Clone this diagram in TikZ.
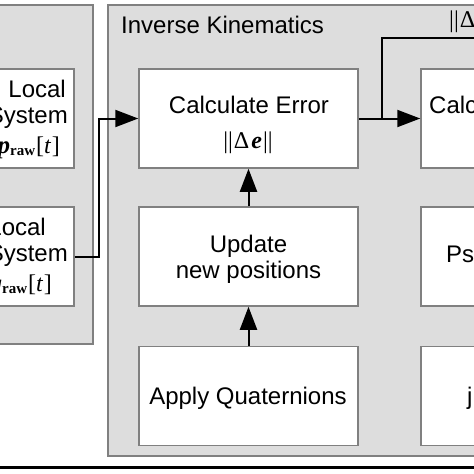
\documentclass[tikz,border=0pt]{standalone}
\usepackage{fontspec}
\setmainfont{Liberation Sans}
\newfontfamily\serifnum{Liberation Serif}
\usetikzlibrary{arrows.meta}
\definecolor{panelfill}{RGB}{221,221,221}
\definecolor{edgegray}{RGB}{128,128,128}
\newcommand{\bigsf}{\fontsize{24}{26}\selectfont}
\newcommand{\rawvec}[1]{{\serifnum\fontsize{25}{27}\selectfont\bfseries\itshape #1}\raisebox{-2pt}{\serifnum\fontsize{15}{17}\selectfont\bfseries raw}{\serifnum\fontsize{24}{26}\selectfont\kern1pt[\itshape t\kern1pt\upshape]}}
\begin{document}
\begin{tikzpicture}[x=1pt,y=-1pt,
  panel/.style={fill=panelfill,draw=edgegray,line width=1.5pt},
  box/.style={draw=edgegray,fill=white,line width=1.5pt,minimum width=219pt,minimum height=99pt,inner sep=0pt},
  lbl/.style={font=\bigsf,inner sep=0pt,anchor=base},
  lble/.style={font=\bigsf,inner sep=0pt,anchor=base east},
  lblw/.style={font=\bigsf,inner sep=0pt,anchor=base west},
  mth/.style={font=\serifnum\fontsize{24}{26}\selectfont,inner sep=0pt,anchor=base},
  arr/.style={-{Triangle[length=23pt,width=17pt]},line width=2pt,black},
  wire/.style={line width=2pt,black}]
\useasboundingbox (0,0) rectangle (474,474);
\clip (0,0) rectangle (474,474);
% panels
\filldraw[panel] (-160,5) rectangle (93,344);
\filldraw[panel] (108,5) rectangle (700,456);
% bottom rule
\draw[line width=2.5pt,black] (-10,467.5) -- (490,467.5);
% panel title
\node[lblw] (iktitle) at (121,33) {Inverse Kinematics};
\node[mth,anchor=base west] (toplbl) at (449,27) {||\kern1ptΔ};
% left boxes
\node[box] (loc1) at (-35.5,118.5) {};
\node[box] (loc2) at (-35.5,256.5) {};
\node[lble] (loc1a) at (66,97) {Local};
\node[lble] (loc1b) at (68,123) {System};
\node[inner sep=0pt,anchor=base east] (loc1c) at (60,153) {\rawvec{p}};
\node[lble] (loc2a) at (46,235) {Local};
\node[lble] (loc2b) at (68,261) {System};
\node[inner sep=0pt,anchor=base east] (loc2c) at (52,291) {\rawvec{q}};
% middle column
\node[box] (calc) at (248.5,118.5) {};
\node[box] (upd) at (248.5,256.5) {};
\node[box] (quat) at (248.5,396) {};
\node[lbl] (calca) at (249,113) {Calculate Error};
\node[mth] (calcb) at (248,148) {||\kern1ptΔ\kern2pt{\bfseries\itshape e}\kern1pt||};
\node[lbl] (upda) at (248.5,252) {Update};
\node[lbl] (updb) at (248.5,278) {new positions};
\node[lbl] (quata) at (248,404) {Apply Quaternions};
% right column
\node[box] (rc1) at (530.5,118.5) {};
\node[box] (rc2) at (530.5,256.5) {};
\node[box] (rc3) at (530.5,396) {};
\node[lblw] (rc1a) at (429,113) {Calc};
\node[lblw] (rc2a) at (446,262) {Ps};
\node[lblw] (rc3a) at (467,404) {j};
% connectors
\coordinate (lbend) at (99,256.5);
\draw[arr] (loc2.east) -- (lbend) |- (calc.west);
\draw[arr] (quat.north) -- (upd.south);
\draw[arr] (upd.north) -- (calc.south);
\draw[arr] (calc.east) -- (rc1.west);
\coordinate (rbranch) at (382,118.5);
\coordinate (rtop) at (490,38);
\draw[wire] (rbranch) |- (rtop);
\end{tikzpicture}
\end{document}
